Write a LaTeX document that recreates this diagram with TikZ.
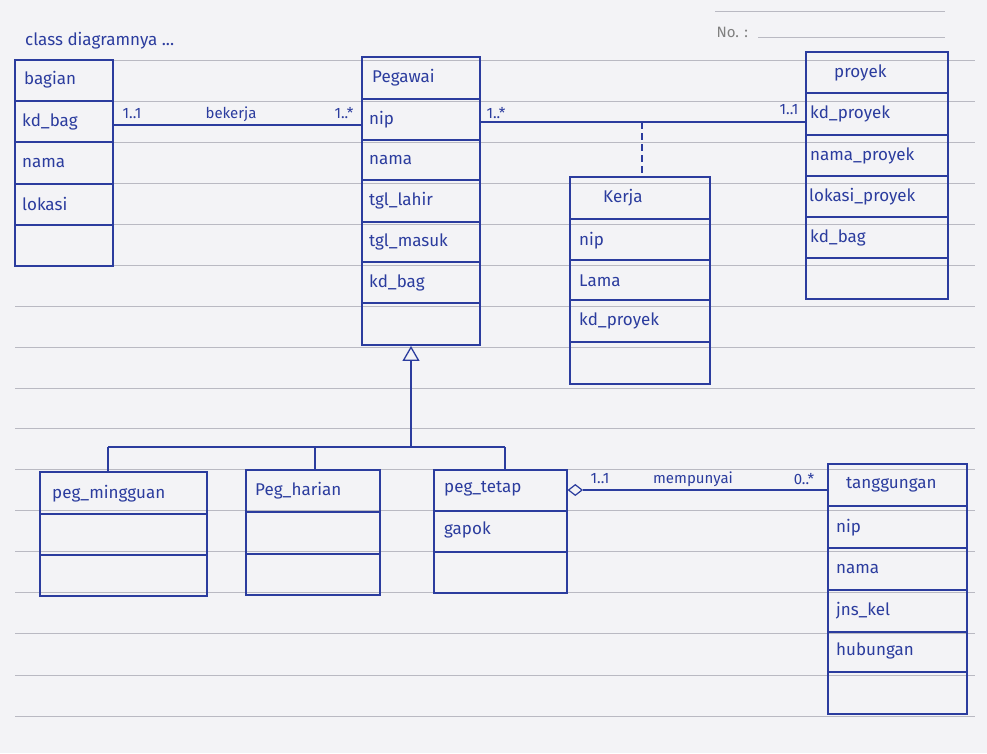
\documentclass[tikz,border=0pt]{standalone}
\usepackage{fontspec}
\setmainfont{Fira Sans}
\usetikzlibrary{shapes.geometric}
\definecolor{ink}{HTML}{2B3C9E}
\definecolor{paper}{HTML}{F3F3F6}
\definecolor{rule}{HTML}{B9B9C2}
\begin{document}
\begin{tikzpicture}[x=1pt,y=-1pt,
  box/.style={draw=ink,line width=1.4pt,inner sep=0pt},
  txt/.style={text=ink,font=\fontsize{17}{19}\selectfont,anchor=west,inner sep=0pt},
  lab/.style={text=ink,font=\fontsize{15}{17}\selectfont,inner sep=0pt},
  conn/.style={draw=ink,line width=1.3pt}]
\fill[paper] (0,0) rectangle (987,753);
\useasboundingbox (0,0) rectangle (987,753);
\foreach \y in {60,101,142,183,224,265,306,347,388,428,469,510,551,592,633,675,716}
  \draw[rule,line width=0.6pt] (15,\y) -- (975,\y);
\draw[rule,line width=0.6pt] (715,11) -- (945,11);
\draw[rule,line width=0.6pt] (758,37) -- (945,37);
\node[text=gray,font=\fontsize{15}{17}\selectfont,anchor=west] (no) at (713,32) {No. :};
\node[txt,anchor=west] (title) at (25,41) {class diagramnya ...};
% bagian
\node[box,minimum width=98pt,minimum height=206pt] (bagian) at (64,163) {};
\foreach \y in {101,142,184,225} \draw[ink,line width=1.4pt] (15,\y) -- (113,\y);
\node[txt] (b0) at (24,80) {bagian};
\node[txt] (b1) at (22,122) {kd\_bag};
\node[txt] (b2) at (22,163) {nama};
\node[txt] (b3) at (22,204) {lokasi};
% Pegawai
\node[box,minimum width=118pt,minimum height=288pt] (peg) at (421,201) {};
\foreach \y in {99,140,180,222,262,303} \draw[ink,line width=1.4pt] (362,\y) -- (480,\y);
\node[txt] (p0) at (372,78) {Pegawai};
\node[txt] (p1) at (369,120) {nip};
\node[txt] (p2) at (369,160) {nama};
\node[txt] (p3) at (369,201) {tgl\_lahir};
\node[txt] (p4) at (369,242) {tgl\_masuk};
\node[txt] (p5) at (369,283) {kd\_bag};
% proyek
\node[box,minimum width=142pt,minimum height=247pt] (proyek) at (877,175.5) {};
\foreach \y in {93,135,176,217,258} \draw[ink,line width=1.4pt] (806,\y) -- (948,\y);
\node[txt] (r0) at (834,73) {proyek};
\node[txt] (r1) at (810,114) {kd\_proyek};
\node[txt] (r2) at (810,156) {nama\_proyek};
\node[txt] (r3) at (809,197) {lokasi\_proyek};
\node[txt] (r4) at (810,238) {kd\_bag};
% Kerja
\node[box,minimum width=140pt,minimum height=207pt] (kerja) at (640,280.5) {};
\foreach \y in {219,260,300,342} \draw[ink,line width=1.4pt] (570,\y) -- (710,\y);
\node[txt] (k0) at (603,198) {Kerja};
\node[txt] (k1) at (579,241) {nip};
\node[txt] (k2) at (579,281) {Lama};
\node[txt] (k3) at (579,321) {kd\_proyek};
% peg_mingguan
\node[box,minimum width=167pt,minimum height=124pt] (pm) at (123.5,534) {};
\foreach \y in {514,555} \draw[ink,line width=1.4pt] (40,\y) -- (207,\y);
\node[txt] (pm0) at (52,494) {peg\_mingguan};
% peg_harian
\node[box,minimum width=134pt,minimum height=125pt] (ph) at (313,532.5) {};
\foreach \y in {512,554} \draw[ink,line width=1.4pt] (246,\y) -- (380,\y);
\node[txt] (ph0) at (255,491) {Peg\_harian};
% peg_tetap
\node[box,minimum width=133pt,minimum height=123pt] (pt) at (500.5,531.5) {};
\foreach \y in {511,552} \draw[ink,line width=1.4pt] (434,\y) -- (567,\y);
\node[txt] (pt0) at (444,489) {peg\_tetap};
\node[txt] (pt1) at (444,530) {gapok};
% tanggungan
\node[box,minimum width=139pt,minimum height=250pt] (tg) at (897.5,589) {};
\foreach \y in {506,548,590,632,672} \draw[ink,line width=1.4pt] (828,\y) -- (967,\y);
\node[txt] (t0) at (846,485) {tanggungan};
\node[txt] (t1) at (836,528) {nip};
\node[txt] (t2) at (836,569) {nama};
\node[txt] (t3) at (836,611) {jns\_kel};
\node[txt] (t4) at (836,651) {hubungan};
% bekerja
\draw[conn] (bagian.east |- 0,125) -- (peg.west |- 0,125);
\node[lab] (l1) at (132,114) {1..1};
\node[lab] (l2) at (231,114) {bekerja};
\node[lab] (l3) at (344,113) {1..*};
% Pegawai - proyek
\draw[conn] (peg.east |- 0,122) -- (proyek.west |- 0,122);
\node[lab] (l4) at (496,113) {1..*};
\node[lab] (l5) at (789,110) {1..1};
\coordinate (kj) at (642,122);
\draw[conn,dash pattern=on 7pt off 4pt] (kj) -- (kerja.north -| kj);
% inheritance
\node[draw=ink,line width=1.3pt,fill=paper,isosceles triangle,isosceles triangle apex angle=60,shape border rotate=90,minimum size=13pt,inner sep=0pt,anchor=apex] (tri) at (411,346) {};
\coordinate (jn) at (411,447);
\draw[conn] (tri.south) -- (jn);
\draw[conn] (108,447) -- (505,447);
\draw[conn] (108,447) -- (108,472);
\draw[conn] (315,447) -- (315,470);
\draw[conn] (505,447) -- (505,470);
% mempunyai
\node[draw=ink,line width=1.2pt,fill=paper,diamond,minimum width=14pt,minimum height=11pt,inner sep=0pt,anchor=west] (dm) at (pt.east |- 0,490) {};
\draw[conn] (dm.east) -- (tg.west |- dm.east);
\node[lab] (l6) at (600,479) {1..1};
\node[lab] (l7) at (693,479) {mempunyai};
\node[lab] (l8) at (804,479) {0..*};
\end{tikzpicture}
\end{document}
